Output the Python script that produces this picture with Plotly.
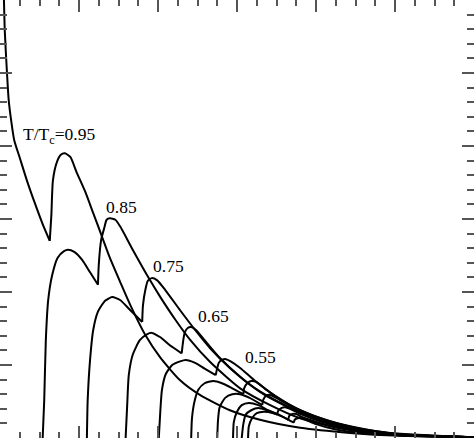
import plotly.graph_objects as go

# Temperatures (T/Tc) of the curves
temps = [0.95, 0.85, 0.75, 0.65, 0.55, 0.45, 0.35, 0.25, 0.15, 0.05]

# First hump of each curve (ends at the cusp)
hump_x = {
    0.95: [0.045, 0.05, 0.06, 0.09, 0.11, 0.14, 0.18, 0.25, 0.34, 0.44, 0.54, 0.63],
    0.85: [0.54, 0.56, 0.58, 0.61, 0.66, 0.73, 0.81, 0.86, 0.94, 1.04, 1.14, 1.24],
    0.75: [1.10, 1.11, 1.14, 1.18, 1.24, 1.33, 1.42, 1.52, 1.65, 1.80],
    0.65: [1.59, 1.61, 1.63, 1.68, 1.77, 1.86, 1.92, 2.03, 2.15, 2.30],
    0.55: [2.01, 2.03, 2.05, 2.10, 2.18, 2.28, 2.35, 2.47, 2.59, 2.73],
    0.45: [2.42, 2.43, 2.46, 2.51, 2.59, 2.70, 2.81, 2.94, 3.08],
    0.35: [2.75, 2.76, 2.78, 2.85, 2.94, 3.04, 3.16, 3.32],
    0.25: [2.95, 2.96, 3.00, 3.06, 3.15, 3.27, 3.39, 3.51],
    0.15: [3.06, 3.08, 3.11, 3.18, 3.27, 3.38, 3.51, 3.65],
    0.05: [3.14, 3.15, 3.19, 3.25, 3.34, 3.46, 3.58, 3.72],
}
hump_y = {
    0.95: [6.2, 6.0, 5.59, 4.97, 4.63, 4.36, 4.08, 3.84, 3.53, 3.22, 2.93, 2.70],
    0.85: [0.0, 0.52, 1.34, 1.89, 2.23, 2.47, 2.56, 2.58, 2.55, 2.44, 2.27, 2.10],
    0.75: [0.0, 0.52, 1.07, 1.48, 1.73, 1.88, 1.93, 1.89, 1.75, 1.59],
    0.65: [0.0, 0.45, 0.86, 1.14, 1.34, 1.42, 1.44, 1.38, 1.27, 1.16],
    0.55: [0.0, 0.38, 0.66, 0.88, 1.00, 1.05, 1.07, 1.03, 0.95, 0.86],
    0.45: [0.0, 0.27, 0.49, 0.66, 0.75, 0.78, 0.75, 0.68, 0.60],
    0.35: [0.0, 0.25, 0.42, 0.55, 0.60, 0.60, 0.55, 0.45],
    0.25: [0.0, 0.22, 0.36, 0.45, 0.48, 0.45, 0.38, 0.32],
    0.15: [0.0, 0.19, 0.32, 0.38, 0.41, 0.38, 0.33, 0.25],
    0.05: [0.0, 0.16, 0.27, 0.34, 0.36, 0.34, 0.29, 0.21],
}

# Second (coherence) peak and tail, starting at the cusp
tail_x = {
    0.95: [0.63, 0.65, 0.67, 0.72, 0.77, 0.82, 0.89, 0.97, 1.08, 1.18, 1.27, 1.39, 1.52,
           1.65, 1.84, 2.03, 2.28, 2.53, 2.91, 3.29, 3.80, 4.43, 5.06, 6.0],
    0.85: [1.24, 1.25, 1.28, 1.32, 1.35, 1.39, 1.46, 1.52, 1.68, 1.90, 2.03, 2.22, 2.41,
           2.66, 3.04, 3.42, 3.80, 4.30, 4.81, 5.32, 6.0],
    0.75: [1.80, 1.81, 1.84, 1.87, 1.92, 1.99, 2.09, 2.28, 2.47, 2.66, 2.91, 3.23, 3.61,
           4.05, 4.56, 5.06, 6.0],
    0.65: [2.30, 2.32, 2.34, 2.38, 2.42, 2.48, 2.59, 2.78, 3.04, 3.35, 3.73, 4.18, 4.68,
           5.19, 6.0],
    0.55: [2.73, 2.75, 2.77, 2.81, 2.86, 2.92, 3.04, 3.23, 3.48, 3.80, 4.18, 4.62, 5.06, 6.0],
    0.45: [3.08, 3.09, 3.13, 3.18, 3.24, 3.35, 3.54, 3.80, 4.11, 4.49, 4.94, 6.0],
    0.35: [3.32, 3.33, 3.37, 3.42, 3.48, 3.61, 3.80, 4.11, 4.49, 4.94, 6.0],
    0.25: [3.51, 3.52, 3.56, 3.61, 3.67, 3.80, 4.05, 4.37, 4.75, 5.19, 6.0],
    0.15: [3.65, 3.66, 3.70, 3.75, 3.80, 3.92, 4.18, 4.49, 4.87, 5.32, 6.0],
    0.05: [3.72, 3.73, 3.77, 3.82, 3.87, 4.00, 4.24, 4.56, 5.00, 6.0],
}
tail_y = {
    0.95: [2.70, 3.05, 3.53, 3.78, 3.88, 3.90, 3.85, 3.64, 3.37, 3.08, 2.82, 2.47, 2.14,
           1.82, 1.41, 1.10, 0.79, 0.59, 0.38, 0.25, 0.14, 0.07, 0.03, 0.01],
    0.85: [2.10, 2.37, 2.71, 2.88, 2.99, 3.01, 2.99, 2.90, 2.58, 2.16, 1.93, 1.62, 1.34,
           1.04, 0.68, 0.45, 0.27, 0.14, 0.05, 0.03, 0.01],
    0.75: [1.59, 1.82, 2.03, 2.15, 2.19, 2.16, 2.03, 1.75, 1.48, 1.23, 0.96, 0.68, 0.45,
           0.25, 0.11, 0.04, 0.01],
    0.65: [1.16, 1.34, 1.45, 1.51, 1.52, 1.48, 1.34, 1.10, 0.84, 0.59, 0.38, 0.22, 0.10,
           0.04, 0.01],
    0.55: [0.86, 0.96, 1.03, 1.07, 1.08, 1.05, 0.96, 0.78, 0.58, 0.38, 0.23, 0.12, 0.05, 0.01],
    0.45: [0.60, 0.68, 0.75, 0.78, 0.77, 0.68, 0.53, 0.38, 0.25, 0.14, 0.07, 0.01],
    0.35: [0.45, 0.52, 0.58, 0.59, 0.56, 0.48, 0.37, 0.23, 0.12, 0.05, 0.01],
    0.25: [0.32, 0.37, 0.41, 0.42, 0.40, 0.33, 0.23, 0.14, 0.07, 0.03, 0.01],
    0.15: [0.25, 0.30, 0.33, 0.33, 0.30, 0.25, 0.16, 0.10, 0.05, 0.03, 0.01],
    0.05: [0.21, 0.25, 0.27, 0.27, 0.25, 0.19, 0.12, 0.07, 0.04, 0.01],
}

# Curve labels
label_texts = ["T/T<sub>c</sub>=0.95", "0.85", "0.75", "0.65", "0.55"]
label_x = [0.27, 1.32, 1.91, 2.48, 3.07]
label_y = [4.14, 3.16, 2.36, 1.67, 1.11]

fig = go.Figure()
line_style = dict(color="black", width=2, shape="spline", smoothing=0.6)
for t in temps:
    fig.add_trace(go.Scatter(x=hump_x[t], y=hump_y[t], mode="lines",
                             line=line_style, showlegend=False, hoverinfo="skip"))
    fig.add_trace(go.Scatter(x=tail_x[t], y=tail_y[t], mode="lines",
                             line=line_style, showlegend=False, hoverinfo="skip"))

for txt, lx, ly in zip(label_texts, label_x, label_y):
    fig.add_annotation(x=lx, y=ly, text=txt, showarrow=False, xanchor="left",
                       yanchor="middle",
                       font=dict(family="Liberation Serif", size=17.5, color="black"))

tick_col = "#555555"
axis_common = dict(showgrid=False, zeroline=False, showline=False, showticklabels=False,
                   ticks="inside", ticklen=12, tickwidth=1.6, tickcolor=tick_col,
                   mirror="ticks")
fig.update_xaxes(range=[0, 6], dtick=1, tick0=0,
                 minor=dict(dtick=0.25, ticks="inside", ticklen=6, tickwidth=1.6,
                            tickcolor=tick_col, showgrid=False),
                 **axis_common)
fig.update_yaxes(range=[0, 6], dtick=1, tick0=0,
                 minor=dict(dtick=0.2, ticks="inside", ticklen=7, tickwidth=1.6,
                            tickcolor=tick_col, showgrid=False),
                 **axis_common)
fig.update_layout(width=474, height=438, margin=dict(l=0, r=0, t=0, b=0),
                  paper_bgcolor="white", plot_bgcolor="white")
fig.write_html("out.html", config={"displayModeBar": False},
               post_script="document.body.style.margin='0';"
                           "document.body.style.overflow='hidden';")
